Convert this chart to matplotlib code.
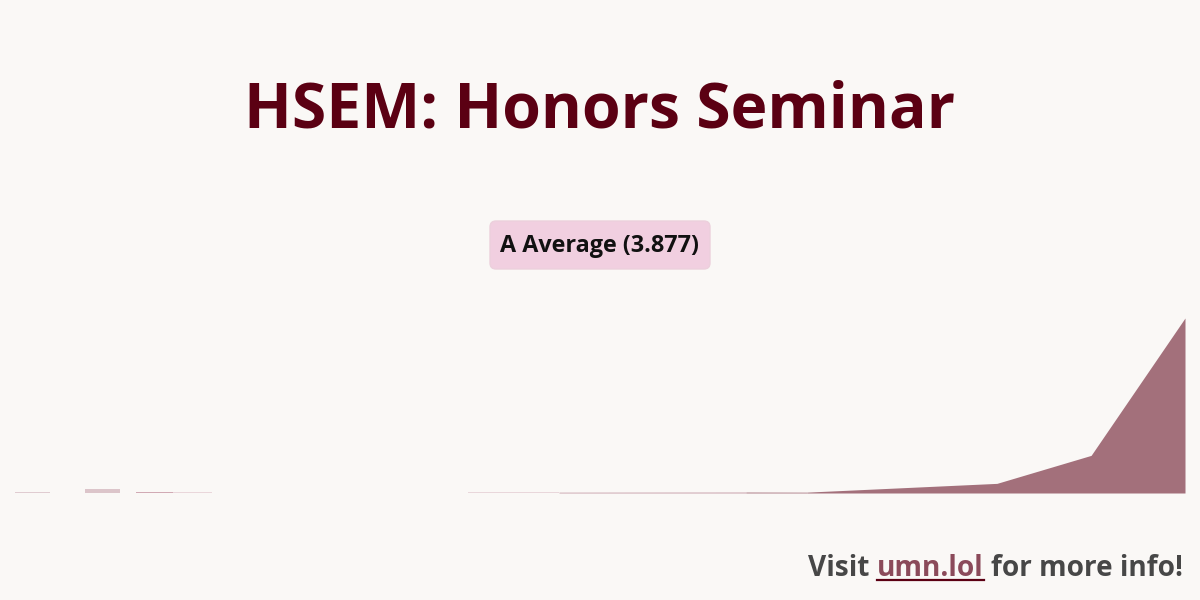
import numpy as np
import matplotlib.pyplot as plt
from matplotlib.patches import FancyBboxPatch
from matplotlib.transforms import IdentityTransform
from matplotlib.lines import Line2D

plt.rcParams['font.family'] = ['Open Sans', 'DejaVu Sans']

# grade distribution, x in grade points, y in percent of students
title = "HSEM: Honors Seminar"
badge = "A Average (3.877)"

# small flat pieces on the left
left_x0 = [-0.149, 0.099, 0.280, 0.411]
left_x1 = [-0.025, 0.223, 0.411, 0.550]
left_pct = [0.45, 1.5, 0.35, 0.3]
left_colors = ['#e0ccd1', '#dcc5ca', '#d1aab4', '#ead7db']

# main curve
main_gpa = [1.457, 1.780, 2.443, 2.660, 3.333, 3.667, 4.000]
main_pct = [0.3, 0.3, 0.35, 0.3, 3.3, 12.9, 60.0]
main_colors = ['#e9d7db', '#caa4ae', '#b0818b', '#a3707b', '#a3707b', '#a3707b']

bg = '#faf8f6'
fig = plt.figure(figsize=(12, 6), dpi=100, facecolor=bg)

ax = fig.add_axes([15 / 1200, 107 / 600, 1170 / 1200, 175 / 600])
ax.set_xlim(-0.149, 4.0)
ax.set_ylim(0, max(main_pct))
ax.axis('off')

for x0, x1, p, c in zip(left_x0, left_x1, left_pct, left_colors):
    ax.fill_between([x0, x1], [p, p], 0, color=c, lw=0)

# join runs of the same colour so no seams show
i = 0
while i < len(main_colors):
    j = i
    while j + 1 < len(main_colors) and main_colors[j + 1] == main_colors[i]:
        j += 1
    ax.fill_between(main_gpa[i:j + 2], main_pct[i:j + 2], 0, color=main_colors[i], lw=0)
    i = j + 1

# title
fig.text(0.5, 1 - 128 / 600, title, ha='center', va='baseline',
         fontsize=45, fontweight='bold', color='#5b0013')

# badge
box = FancyBboxPatch((490, 600 - 269), 220, 48, boxstyle='round,pad=0,rounding_size=6',
                     transform=IdentityTransform(), facecolor='#f1cfe0', edgecolor='#ecd0dc', lw=1)
fig.patches.append(box)
fig.text(0.5, 1 - 251.5 / 600, badge, ha='center', va='baseline',
         fontsize=16.8, fontweight='bold', color='#111111')

# footer, built right to left
r = fig.canvas.get_renderer()
fs = 20.2
base = 1 - 576.5 / 600


def width(s):
    t = fig.text(0, 0, s, fontsize=fs, fontweight='bold')
    w = t.get_window_extent(r).width
    t.remove()
    return w


gap = width("x x") - width("xx")
t3 = fig.text(1183 / 1200, base, "for more info!", ha='right', va='baseline',
              fontsize=fs, fontweight='bold', color='#474747')
x = t3.get_window_extent(r).x0 - gap
t2 = fig.text(x / 1200, base, "umn.lol", ha='right', va='baseline',
              fontsize=fs, fontweight='bold', color='#8b4a5a')
bb = t2.get_window_extent(r)
fig.lines.append(Line2D([bb.x0, bb.x1], [600 - 579.5, 600 - 579.5], transform=IdentityTransform(),
                        color='#5b0013', lw=1.6))
fig.text((bb.x0 - gap) / 1200, base, "Visit", ha='right', va='baseline',
         fontsize=fs, fontweight='bold', color='#474747')

fig.savefig('out.png', dpi=100, facecolor=bg)
